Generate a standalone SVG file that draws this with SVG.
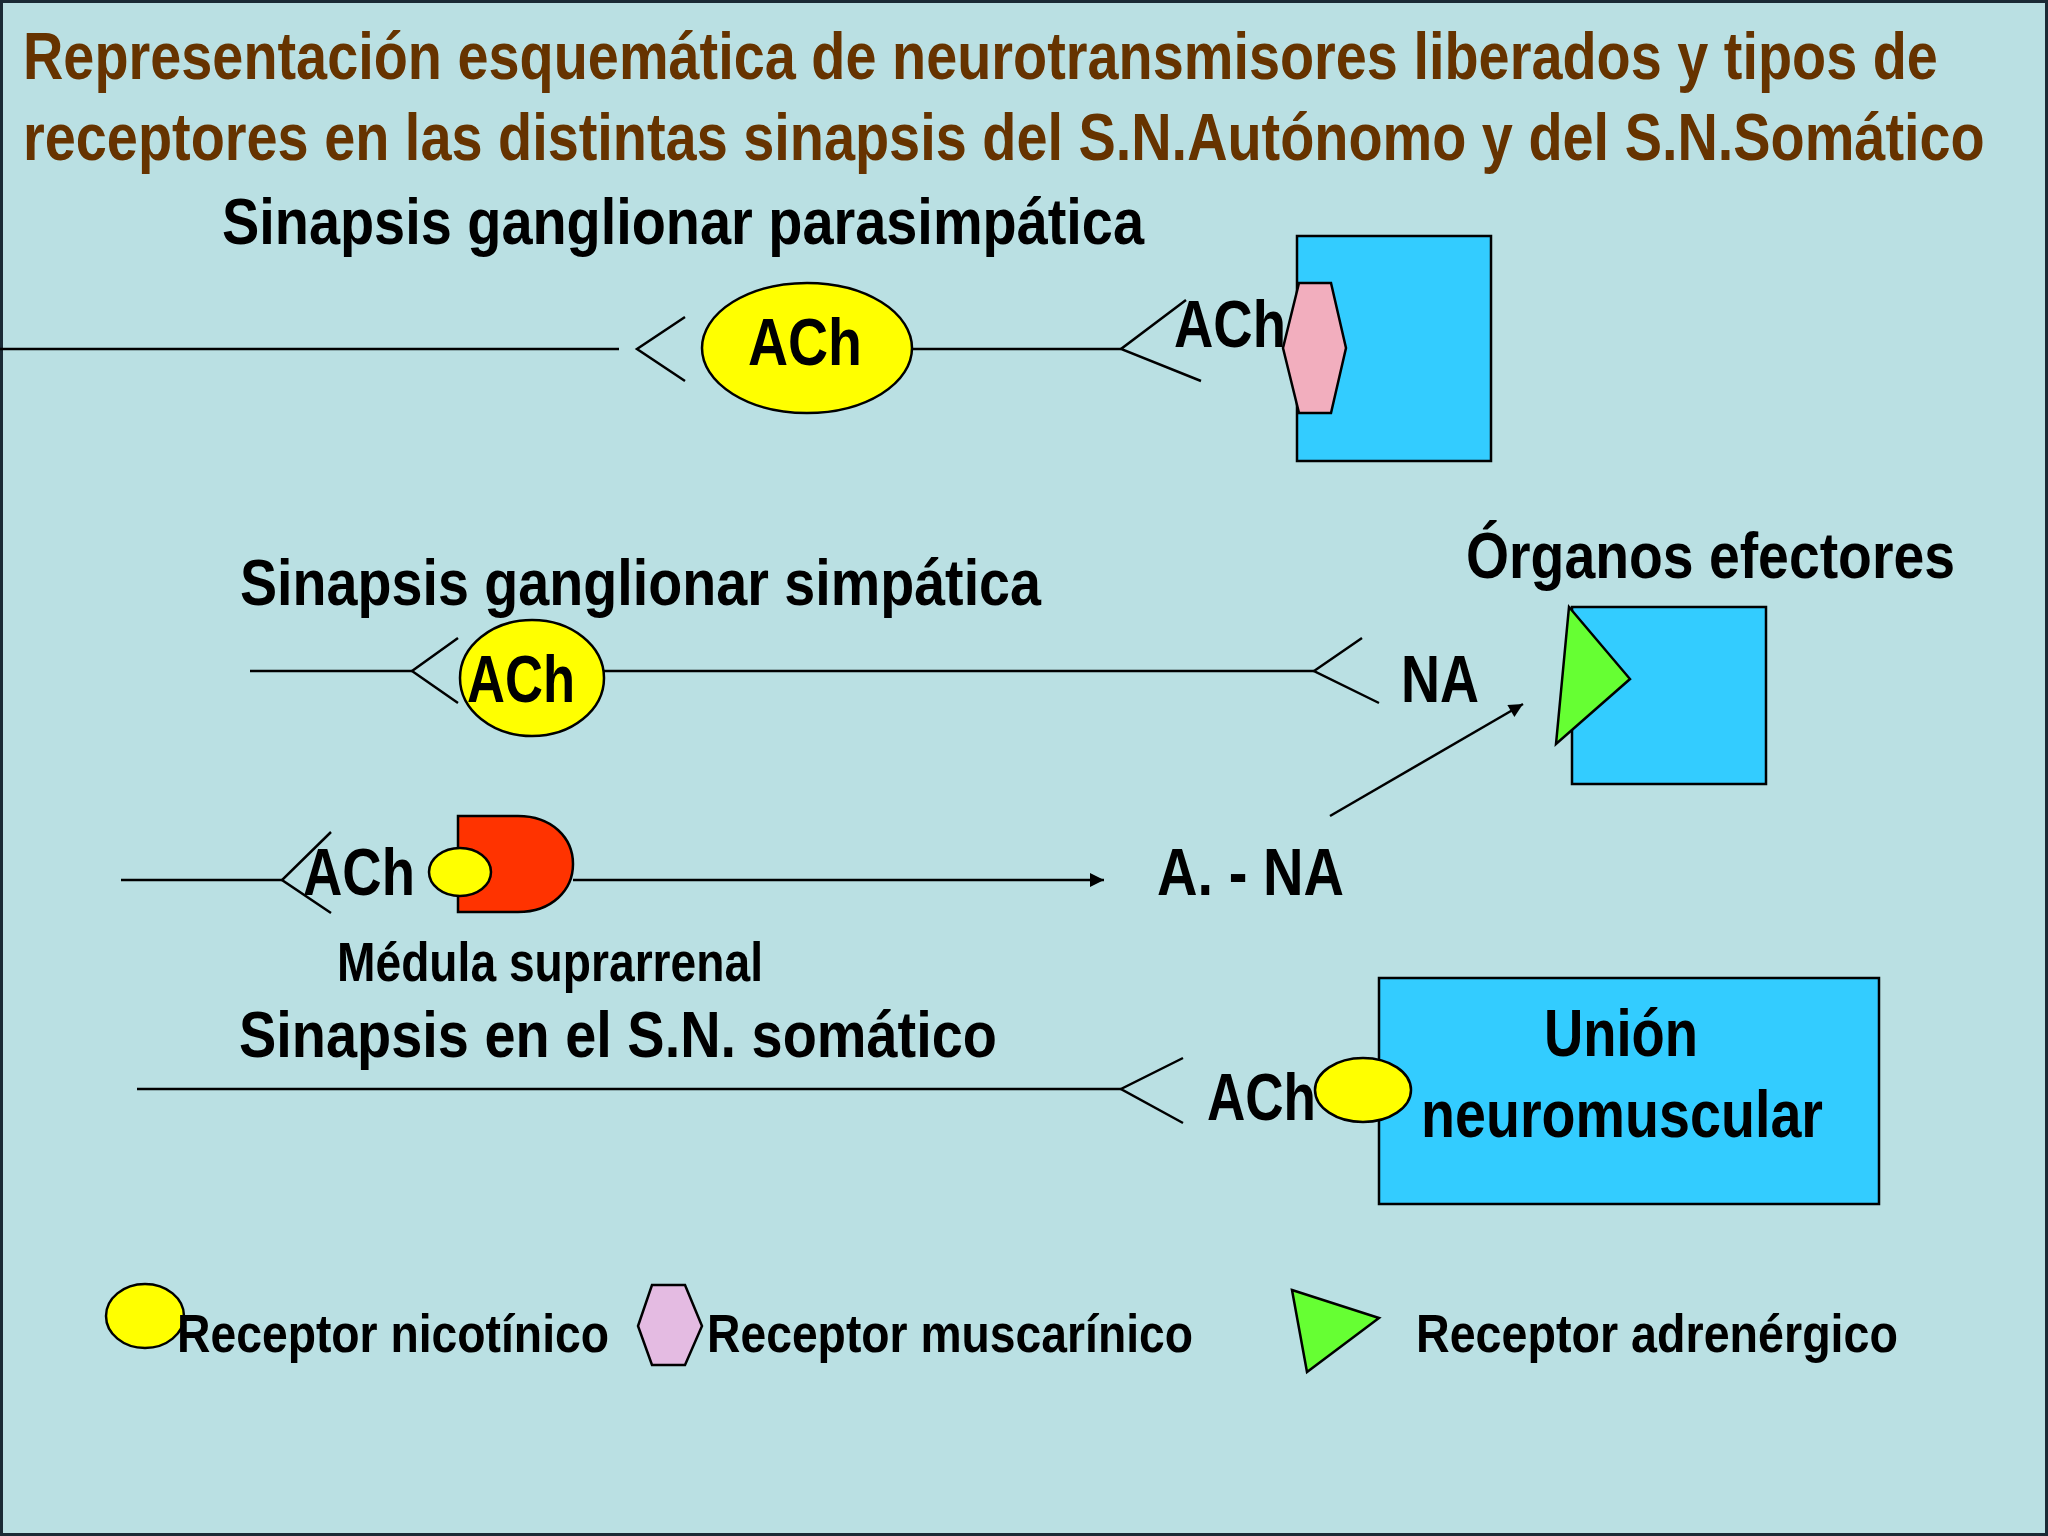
<svg xmlns="http://www.w3.org/2000/svg" width="2048" height="1536" viewBox="0 0 2048 1536">
  <defs>
    <marker id="arrow" viewBox="0 0 10 10" refX="10" refY="5" markerWidth="20" markerHeight="14" markerUnits="userSpaceOnUse" orient="auto">
      <path d="M0,0 L10,5 L0,10 Z" fill="#000"/>
    </marker>
    <style>
      text { font-family: "Liberation Sans", Arial, "DejaVu Sans", sans-serif; font-weight: bold; fill: #000; }
      .title { font-size: 66px; fill: #663300; }
      .sub { font-size: 64px; }
      .lbl { font-size: 66px; }
      .small { font-size: 56px; }
      .leg { font-size: 54px; }
      .ln { stroke: #000; stroke-width: 2.5; fill: none; }
      .nic { fill: #FFFF00; stroke: #000; stroke-width: 2.5; }
      .org { fill: #33CCFF; stroke: #000; stroke-width: 2.5; }
      .mus { fill: #F2AEBE; stroke: #000; stroke-width: 2.5; }
      .adr { fill: #66FF33; stroke: #000; stroke-width: 2.5; }
    </style>
  </defs>

  <rect x="0" y="0" width="2048" height="1536" fill="#BAE0E3"/>
  <rect x="1.5" y="1.5" width="2045" height="1533" fill="none" stroke="#1A2A35" stroke-width="3"/>

  <g id="title">
    <text class="title" transform="translate(23,79) scale(0.78,1)" x="0" y="0" textLength="2455" lengthAdjust="spacingAndGlyphs">Representación esquemática de neurotransmisores liberados y tipos de</text>
    <text class="title" transform="translate(23,160) scale(0.78,1)" x="0" y="0" textLength="2515" lengthAdjust="spacingAndGlyphs">receptores en las distintas sinapsis del S.N.Autónomo y del S.N.Somático</text>
  </g>

  <g id="connectors">
    <!-- row 1 parasympathetic -->
    <line class="ln" x1="0" y1="349" x2="619" y2="349"/>
    <polyline class="ln" points="685,317 637,349 685,381"/>
    <line class="ln" x1="912" y1="349" x2="1121" y2="349"/>
    <polyline class="ln" points="1186,300 1121,349 1201,381"/>
    <!-- row 2 sympathetic -->
    <line class="ln" x1="250" y1="671" x2="412" y2="671"/>
    <polyline class="ln" points="458,638 412,671 458,703"/>
    <line class="ln" x1="604" y1="671" x2="1314" y2="671"/>
    <polyline class="ln" points="1362,638 1314,671 1379,703"/>
    <line class="ln" x1="1330" y1="816" x2="1523" y2="704" marker-end="url(#arrow)"/>
    <!-- row 3 medulla -->
    <line class="ln" x1="121" y1="880" x2="282" y2="880"/>
    <line class="ln" x1="573" y1="880" x2="1104" y2="880" marker-end="url(#arrow)"/>
    <!-- row 4 somatic -->
    <line class="ln" x1="137" y1="1089" x2="1121" y2="1089"/>
    <polyline class="ln" points="1183,1058 1121,1089 1183,1123"/>
  </g>

  <g id="parasimpatica">
    <text class="sub" x="222" y="244" textLength="922" lengthAdjust="spacingAndGlyphs">Sinapsis ganglionar parasimpática</text>
    <g id="ach-ganglio-para">
      <ellipse class="nic" cx="807" cy="348" rx="105" ry="65"/>
      <text class="lbl" x="748" y="365" textLength="114" lengthAdjust="spacingAndGlyphs">ACh</text>
    </g>
    <text class="lbl" x="1174" y="347" textLength="112" lengthAdjust="spacingAndGlyphs">ACh</text>
    <g id="organo-para">
      <rect class="org" x="1297" y="236" width="194" height="225"/>
      <polygon class="mus" points="1299,283 1331,283 1346,348 1331,413 1299,413 1283,348"/>
    </g>
  </g>

  <g id="simpatica">
    <text class="sub" x="240" y="605" textLength="801" lengthAdjust="spacingAndGlyphs">Sinapsis ganglionar simpática</text>
    <g id="ach-ganglio-simp">
      <ellipse class="nic" cx="532" cy="678" rx="72" ry="58"/>
      <text class="lbl" x="467" y="702" textLength="108" lengthAdjust="spacingAndGlyphs">ACh</text>
    </g>
    <text class="lbl" x="1401" y="702" textLength="78" lengthAdjust="spacingAndGlyphs">NA</text>
    <text class="sub" x="1466" y="578" textLength="489" lengthAdjust="spacingAndGlyphs">Órganos efectores</text>
    <g id="organo-efector">
      <rect class="org" x="1572" y="607" width="194" height="177"/>
      <polygon class="adr" points="1569,607 1630,679 1556,744"/>
    </g>
  </g>

  <g id="medula">
    <text class="lbl" x="303" y="895" textLength="112" lengthAdjust="spacingAndGlyphs">ACh</text>
    <polyline class="ln" points="331,832 282,880 331,913"/>
    <path d="M458,816 L518,816 C552,816 573,838 573,864 C573,890 552,912 518,912 L458,912 Z" fill="#FF3300" stroke="#000" stroke-width="2.5"/>
    <ellipse class="nic" cx="460" cy="872" rx="31" ry="24"/>
    <text class="small" x="337" y="981" textLength="426" lengthAdjust="spacingAndGlyphs">Médula suprarrenal</text>
    <text class="lbl" x="1157" y="895" textLength="187" lengthAdjust="spacingAndGlyphs">A. - NA</text>
  </g>

  <g id="somatica">
    <text class="sub" x="239" y="1057" textLength="758" lengthAdjust="spacingAndGlyphs">Sinapsis en el S.N. somático</text>
    <text class="lbl" x="1207" y="1120" textLength="109" lengthAdjust="spacingAndGlyphs">ACh</text>
    <g id="union-neuromuscular">
      <rect class="org" x="1379" y="978" width="500" height="226"/>
      <text class="lbl" x="1544" y="1056" textLength="154" lengthAdjust="spacingAndGlyphs">Unión</text>
      <text class="lbl" x="1421" y="1137" textLength="402" lengthAdjust="spacingAndGlyphs">neuromuscular</text>
    </g>
    <ellipse class="nic" cx="1363" cy="1090" rx="48" ry="32"/>
  </g>

  <g id="leyenda">
    <g id="leg-nicotinico">
      <ellipse class="nic" cx="145" cy="1316" rx="39" ry="32"/>
      <text class="leg" x="177" y="1352" textLength="432" lengthAdjust="spacingAndGlyphs">Receptor nicotínico</text>
    </g>
    <g id="leg-muscarinico">
      <polygon points="652,1285 685,1285 702,1326 685,1365 652,1365 638,1326" fill="#E4BBE2" stroke="#000" stroke-width="2.5"/>
      <text class="leg" x="707" y="1352" textLength="486" lengthAdjust="spacingAndGlyphs">Receptor muscarínico</text>
    </g>
    <g id="leg-adrenergico">
      <polygon class="adr" points="1292,1290 1379,1318 1307,1372"/>
      <text class="leg" x="1416" y="1352" textLength="482" lengthAdjust="spacingAndGlyphs">Receptor adrenérgico</text>
    </g>
  </g>
</svg>
